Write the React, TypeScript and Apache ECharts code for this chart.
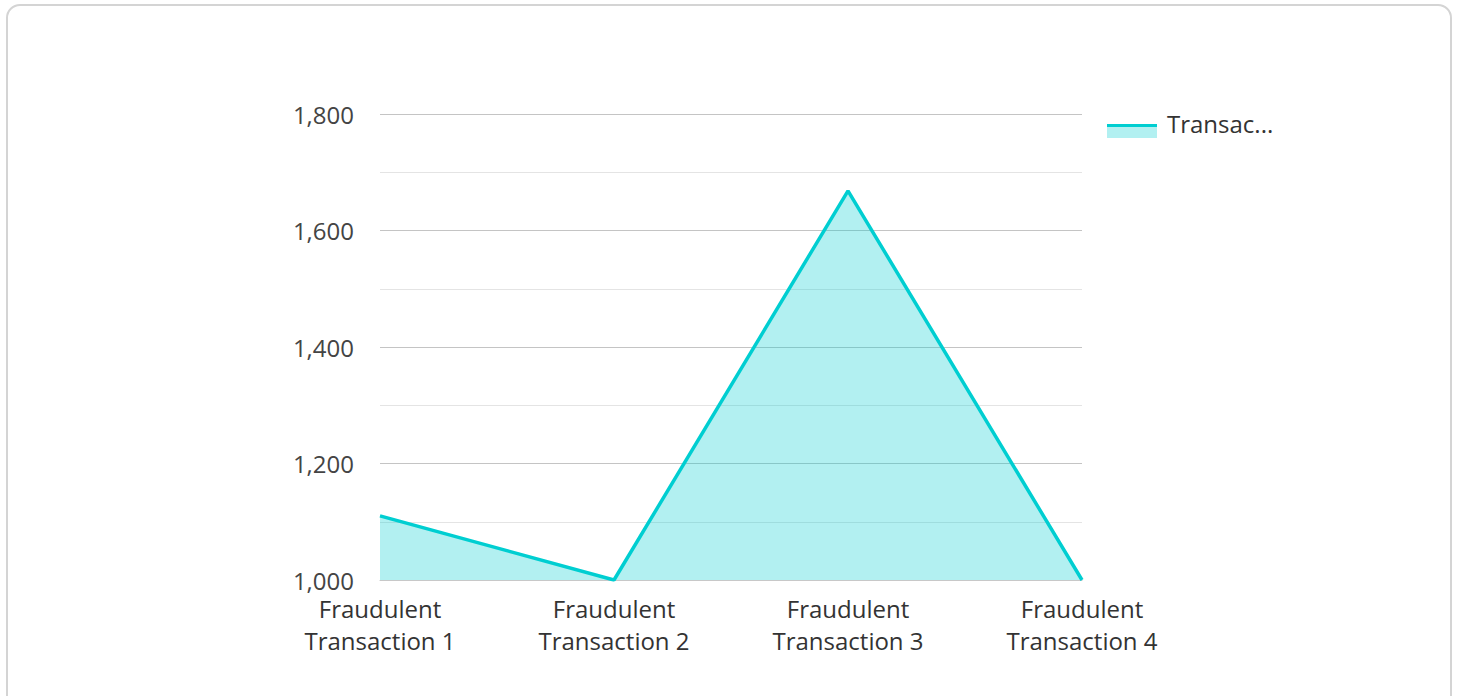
import React, { useEffect, useRef } from "react";
import * as echarts from "echarts";

const categories = [
  "Fraudulent\nTransaction 1",
  "Fraudulent\nTransaction 2",
  "Fraudulent\nTransaction 3",
  "Fraudulent\nTransaction 4",
];
const seriesName = "Transaction Amount";
const amounts = [1110, 1000, 1668, 1000];
const yMin = 1000;
const yMax = 1800;
const yInterval = 200;

const LINE = "#00CED1";
const FILL = "rgba(0,206,209,0.3)";
const FONT = "'Open Sans', 'Noto Sans', sans-serif";

export default function App() {
  const ref = useRef<HTMLDivElement>(null);
  useEffect(() => {
    if (!ref.current) return;
    const chart = echarts.init(ref.current, null, { renderer: "svg" });
    chart.setOption({
      animation: false,
      textStyle: { fontFamily: FONT },
      grid: { left: 380, right: 376, top: 114, bottom: 116, containLabel: false },
      legend: {
        show: true,
        left: 1107,
        top: 106,
        icon: "none",
        itemWidth: 50,
        itemHeight: 14,
        textStyle: {
          fontSize: 24,
          color: "#333",
          fontFamily: FONT,
          width: 108,
          overflow: "truncate",
          ellipsis: "...",
          lineHeight: 24,
        },
        data: [seriesName],
      },
      graphic: [
        { type: "rect", left: 1107, top: 127, shape: { width: 50, height: 11 }, style: { fill: FILL } },
        { type: "rect", left: 1107, top: 124, shape: { width: 50, height: 3 }, style: { fill: LINE } },
      ],
      xAxis: {
        type: "category",
        data: categories,
        boundaryGap: false,
        axisTick: { show: false },
        axisLine: { show: true, lineStyle: { color: "#c8c8c8", width: 1 } },
        axisLabel: { fontSize: 24, color: "#333", lineHeight: 32, margin: 12, fontFamily: FONT },
        splitLine: { show: false },
      },
      yAxis: {
        type: "value",
        min: yMin,
        max: yMax,
        interval: yInterval,
        axisLine: { show: false },
        axisTick: { show: false },
        axisLabel: {
          fontSize: 24,
          color: "#444",
          margin: 26,
          fontFamily: FONT,
          formatter: (v: number) => v.toLocaleString("en-US"),
        },
        splitLine: { show: true, lineStyle: { color: "#c4c4c4", width: 1 } },
        minorTick: { show: false, splitNumber: 2 },
        minorSplitLine: { show: true, lineStyle: { color: "#e4e4e4", width: 1 } },
      },
      series: [
        {
          name: seriesName,
          type: "line",
          data: amounts,
          symbol: "none",
          lineStyle: { color: LINE, width: 3.5 },
          itemStyle: { color: LINE },
          areaStyle: { color: FILL, opacity: 1 },
        },
      ],
    });
    return () => chart.dispose();
  }, []);
  return (
    <div style={{ position: "fixed", left: 0, top: 0, width: 1458, height: 696, background: "#fff", overflow: "hidden" }}>
      <div
        style={{
          position: "absolute",
          left: 6,
          top: 4,
          width: 1446,
          height: 720,
          border: "2px solid #d4d4d4",
          borderRadius: 14,
          boxSizing: "border-box",
        }}
      />
      <div ref={ref} style={{ position: "absolute", left: 0, top: 0, width: 1458, height: 696 }} />
    </div>
  );
}
